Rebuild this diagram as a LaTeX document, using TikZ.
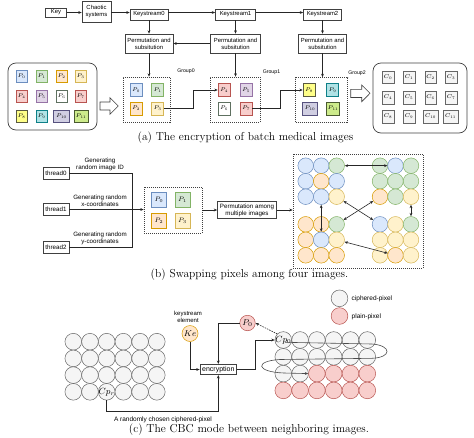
\RequirePackage{fix-cm}
\documentclass[tikz,border=0pt]{standalone}
\usepackage{fontspec}
\setsansfont{Liberation Sans}
\usetikzlibrary{arrows.meta,calc}
\definecolor{bF}{HTML}{DAE8FC}\definecolor{bD}{HTML}{6C8EBF}
\definecolor{gF}{HTML}{D5E8D4}\definecolor{gD}{HTML}{82B366}
\definecolor{oF}{HTML}{FFE6CC}\definecolor{oD}{HTML}{D79B00}
\definecolor{yF}{HTML}{FFF2CC}\definecolor{yD}{HTML}{D6B656}
\definecolor{rF}{HTML}{F8CECC}\definecolor{rD}{HTML}{B85450}
\definecolor{pF}{HTML}{E1D5E7}\definecolor{pD}{HTML}{9673A6}
\definecolor{wF}{HTML}{FFFFFF}\definecolor{wD}{HTML}{5E7060}
\definecolor{zF}{HTML}{FFFF88}\definecolor{zD}{HTML}{5A5A40}
\definecolor{cF}{HTML}{B0E3E6}\definecolor{cD}{HTML}{0E8088}
\definecolor{lF}{HTML}{D0CEE2}\definecolor{lD}{HTML}{56517E}
\definecolor{mF}{HTML}{CDEB8B}\definecolor{mD}{HTML}{4A5A30}
\definecolor{kF}{HTML}{F5F5F5}\definecolor{kD}{HTML}{666666}
\tikzset{
  bx/.style={draw=black!75, line width=0.6pt, fill=white, font=\sffamily\fontsize{5.9}{6.8}\selectfont, align=center, inner sep=0.5pt},
  bxb/.style={bx, font=\sffamily\fontsize{6.2}{7.2}\selectfont},
  lbl/.style={font=\sffamily\fontsize{6.2}{7.2}\selectfont, align=center, inner sep=0pt},
  grplbl/.style={font=\sffamily\fontsize{5.2}{6}\selectfont, inner sep=0pt},
  cell/.style={draw=#1D, fill=#1F, line width=0.5pt, minimum width=11.5pt, minimum height=12.5pt, inner sep=0pt, font=\fontsize{5.5}{6}\selectfont},
  gcell/.style={cell=#1, minimum width=12pt, minimum height=13pt},
  bcell/.style={cell=#1, minimum width=15pt, minimum height=15pt, font=\fontsize{6.5}{7}\selectfont},
  grp/.style={draw=black!75, line width=0.6pt, dash pattern=on 1pt off 1pt, inner sep=0pt},
  bigbox/.style={draw=black!75, line width=0.7pt, rounded corners=8pt, inner sep=0pt},
  hollow/.style={draw=black!75, line width=0.6pt, fill=white},
  arr/.style={line width=0.6pt, draw=black!85, -{Stealth[length=3.4pt,width=2.8pt]}},
  darr/.style={line width=0.6pt, draw=black!85, {Stealth[length=3.4pt,width=2.8pt]}-{Stealth[length=3.4pt,width=2.8pt]}},
  pix/.style={circle, draw=#1D, fill=#1F, line width=0.5pt, minimum size=15.6pt, inner sep=0pt},
  cpix/.style={circle, draw=#1D, fill=#1F, line width=0.5pt, minimum size=16.7pt, inner sep=0pt, font=\fontsize{8}{9}\selectfont},
  captxt/.style={font=\fontsize{11.5}{13}\selectfont, inner sep=0pt}
}
\begin{document}
\begin{tikzpicture}[x=1pt,y=-1pt]
\useasboundingbox (0,0) rectangle (474,437);

% ---------- (a) top row ----------
\node[bx, minimum width=21pt, minimum height=9pt] (key) at (56,12.5) {Key};
\node[bx, minimum width=29pt, minimum height=21pt] (chaos) at (96.5,11.5) {Chaotic\\systems};
\node[bx, minimum width=38pt, minimum height=11pt] (ks0) at (149,14.5) {Keystream0};
\node[bx, minimum width=40pt, minimum height=11pt] (ks1) at (235.5,14.5) {Keystream1};
\node[bx, minimum width=38pt, minimum height=11pt] (ks2) at (322.5,14.5) {Keystream2};
\node[bx, minimum width=48pt, minimum height=19pt] (ps0) at (149,43.5) {Permutation and\\subsitution};
\node[bx, minimum width=50pt, minimum height=19pt] (ps1) at (235.5,43.5) {Permutation and\\subsitution};
\node[bx, minimum width=48pt, minimum height=19pt] (ps2) at (322.5,43.5) {Permutation and\\subsitution};
\draw[arr] (key.east) -- (key.east -| chaos.west);
\draw[arr] (chaos.east |- key) -- (ks0.west |- key);
\draw[arr] (ks0.east |- key) -- (ks1.west |- key);
\draw[arr] (ks1.east |- key) -- (ks2.west |- key);
\draw[arr] (ks0) -- (ps0);
\draw[arr] (ks1) -- (ps1);
\draw[arr] (ks2) -- (ps2);
\draw[arr] (ps1.west) -- (ps0.east);

% ---------- (a) plain images box ----------
\node[bigbox, minimum width=89pt, minimum height=67pt] (plain) at (52.5,96.5) {};
\foreach \n/\x/\y/\c/\w in {0/21.5/76/b/11.5, 1/41.5/76/g/11.5, 2/61.5/76/o/11.5, 3/80.5/76/y/11.5,
  4/21.5/96/r/11.5, 5/41.5/96/p/11.5, 6/61.5/96/w/11.5, 7/80.5/96/r/11.5,
  8/21.5/116/z/11.5, 9/41.5/116/c/11.5, 10/61.5/116/l/16, 11/81/116/m/14}
  \node[cell=\c, minimum width=\w pt] (L\n) at (\x,\y) {$P_{\n}$};

% ---------- (a) cipher box ----------
\node[bigbox, minimum width=94pt, minimum height=70pt] (cipher) at (420,98) {};
\foreach \n/\x/\y/\w in {0/388/77/11.5, 1/409/77/11.5, 2/430.5/77/11.5, 3/451/77/11.5,
  4/388/97.5/11.5, 5/409/97.5/11.5, 6/430.5/97.5/11.5, 7/451/97.5/11.5,
  8/388/116.5/11.5, 9/409/116.5/11.5, 10/430.5/116.5/15, 11/450.5/116.5/15}
  \node[cell=k, minimum width=\w pt] (C\n) at (\x,\y) {$C_{\n}$};

% ---------- (a) groups ----------
\node[grp, minimum width=47pt, minimum height=45pt] (g0) at (146.75,99.5) {};
\node[grp, minimum width=50pt, minimum height=45pt] (g1) at (235,99.5) {};
\node[grp, minimum width=52pt, minimum height=45pt] (g2) at (321.5,100) {};
\node[grplbl] (g0l) at (186,71) {Group0};
\node[grplbl] (g1l) at (271.5,72) {Group1};
\node[grplbl] (g2l) at (357,73.5) {Group2};
\foreach \n/\x/\y/\c/\w in {0/136/90/b/12, 1/157.5/90/g/12, 2/136/108.5/o/12, 3/157.5/108.5/y/12,
  4/224/90/r/12, 5/246/90/p/12, 6/224/108.5/w/12, 7/246/108.5/r/12,
  8/309/90/z/12, 9/332.5/90/c/12, 10/310/108.5/l/15, 11/333/108.5/m/13}
  \node[gcell=\c, minimum width=\w pt] (G\n) at (\x,\y) {$P_{\n}$};
\draw[arr] (ps0.south) -- (ps0.south |- g0.north);
\draw[arr] (ps1.south) -- (ps1.south |- g1.north);
\draw[arr] (ps2.south) -- (ps2.south |- g2.north);
\draw[arr] (G3.east) -- ++(30,0) |- (G4.west);
\draw[arr] (G7.east) -- ++(28,0) |- (G8.west);
\draw[hollow] (100,102) -- (110,102) -- (110,97.7) -- (118.3,106) -- (110,114.3) -- (110,110) -- (100,110) -- cycle;
\draw[hollow] (350.7,89.3) -- (361.7,89.3) -- (361.7,85) -- (370,93.3) -- (361.7,101.7) -- (361.7,97.5) -- (350.7,97.5) -- cycle;
\node[captxt] (capa) at (245.5,137.5) {(a) The encryption of batch medical images};

% ---------- (b) ----------
\node[bxb, minimum width=26pt, minimum height=12pt] (th0) at (56,173) {thread0};
\node[bxb, minimum width=26pt, minimum height=12pt] (th1) at (56,209.5) {thread1};
\node[bxb, minimum width=26pt, minimum height=12pt] (th2) at (56,247) {thread2};
\node[lbl] (l0) at (100,164.5) {Generating\\random image ID};
\node[lbl] (l1) at (100,200.5) {Generating random\\x-coordinates};
\node[lbl] (l2) at (100,238.5) {Generating random\\y-coordinates};
\node[grp, minimum width=58pt, minimum height=46pt] (gb) at (173,210) {};
\node[bcell=b] (B0) at (159,200) {$P_0$};
\node[bcell=g] (B1) at (182.5,200) {$P_1$};
\node[bcell=o] (B2) at (159,220.5) {$P_2$};
\node[bcell=y] (B3) at (182.5,220.5) {$P_3$};
\coordinate (jn) at (132,209.5);
\draw[line width=0.6pt, draw=black!85] (th0.east) -| (jn);
\draw[line width=0.6pt, draw=black!85] (th2.east) -| (jn);
\draw[arr] (th1.east) -- (th1.east -| gb.west);
\node[bxb, minimum width=59pt, minimum height=17pt] (perm) at (247,210) {Permutation among\\multiple images};
\draw[arr] (gb.east |- perm) -- (perm.west);
\node[grp, minimum width=130pt, minimum height=114pt] (pixbox) at (358,211) {};
\draw[arr] (perm.east) -- (perm.east -| pixbox.west);
\foreach \gn/\gx/\gy/\cl in {tl/305.7/165.7/{b,b,g,b,o,b,b,b,y},
  tr/380/165.7/{g,b,g,g,g,g,o,g,y},
  bl/305.7/224.3/{o,o,g,o,b,y,o,o,o},
  br/380/224.3/{b,y,g,y,y,y,y,o,y}}{
  \foreach \c [count=\i from 0] in \cl {
    \pgfmathsetmacro{\cx}{\gx+15.5*mod(\i,3)}
    \pgfmathsetmacro{\cy}{\gy+15.5*int(\i/3)}
    \node[pix=\c] (\gn\i) at (\cx,\cy) {};
  }
}
\draw[darr] (tl2) -- (tr1);
\draw[darr] (tl7) -- (bl4);
\draw[darr] (tl8) -- (br0);
\draw[darr] (tr6) -- (bl2);
\draw[darr] (tr8) -- (br2);
\draw[darr] (bl5) -- (br7);
\node[captxt] (capb) at (249.5,275) {(b) Swapping pixels among four images.};

% ---------- (c) ----------
\foreach \r in {0,1,2,3}{
  \foreach \q in {0,...,5}{
    \pgfmathsetmacro{\cx}{73.3+16.7*\q}
    \pgfmathsetmacro{\cy}{341.7+16.7*\r}
    \node[cpix=k] (a\r\q) at (\cx,\cy) {};
  }
}
\node[font=\fontsize{9}{10}\selectfont, inner sep=0pt] (cpr) at (a32) {$Cp_r$};
\foreach \r in {0,1,2,3}{
  \foreach \q in {0,...,5}{
    \pgfmathsetmacro{\cx}{283.3+16.8*\q}
    \pgfmathsetmacro{\cy}{340+16.8*\r}
    \pgfmathtruncatemacro{\pk}{(\r==3) || (\r==2 && \q>1)}
    \ifnum\pk=1 \node[cpix=r] (b\r\q) at (\cx,\cy) {};
    \else \node[cpix=k] (b\r\q) at (\cx,\cy) {}; \fi
  }
}
\node[font=\fontsize{9}{10}\selectfont, inner sep=0pt] (cp0) at (b00) {$Cp_0$};
\node[bx, font=\sffamily\fontsize{7}{8}\selectfont, minimum width=36.7pt, minimum height=10.5pt] (enc) at (218.3,369.5) {encryption};
\node[cpix=o, minimum size=16pt, font=\fontsize{8.5}{9}\selectfont] (ke) at (190,333.5) {$Ke$};
\node[lbl, font=\sffamily\fontsize{6}{7}\selectfont] (kel) at (188,317) {keystream\\element};
\node[cpix=r, minimum size=15.5pt, font=\fontsize{8.5}{9}\selectfont] (p0) at (247.5,323) {$P_0$};
\draw[arr] (ke.south) |- (enc.west);
\draw[arr] (p0.west) -| (enc.north);
\coordinate (ej) at (255,369.5);
\draw[arr] (enc.east) -- (ej) |- (b00.west);
\draw[arr] (a32.south) -- ++(0,11) -| (enc.south);
\node[lbl, font=\sffamily\fontsize{6.5}{7.5}\selectfont] (rtxt) at (163,419.5) {A randomly chosen ciphered-pixel};
\draw[arr, dash pattern=on 1.5pt off 1pt] (b00.north west) -- (p0.east);
\draw[line width=0.6pt, draw=black!70, -{Stealth[length=3.4pt,width=2.8pt]}] (285,342.3) -- (372,344) .. controls (392,345.5) and (392,357.5) .. (372,358.3) -- (280,359.5) .. controls (254,361) and (256,372) .. (284,373) -- (b22.west);
\node[cpix=k] (legc) at (339.5,298.3) {};
\node[cpix=r] (legp) at (339.5,316) {};
\node[lbl, font=\sffamily\fontsize{6.5}{7.5}\selectfont, anchor=west] (legct) at (351.5,299) {ciphered-pixel};
\node[lbl, font=\sffamily\fontsize{6.5}{7.5}\selectfont, anchor=west] (legpt) at (351.5,317) {plain-pixel};
\node[captxt] (capc) at (249,430) {(c) The CBC mode between neighboring images.};
\end{tikzpicture}
\end{document}
